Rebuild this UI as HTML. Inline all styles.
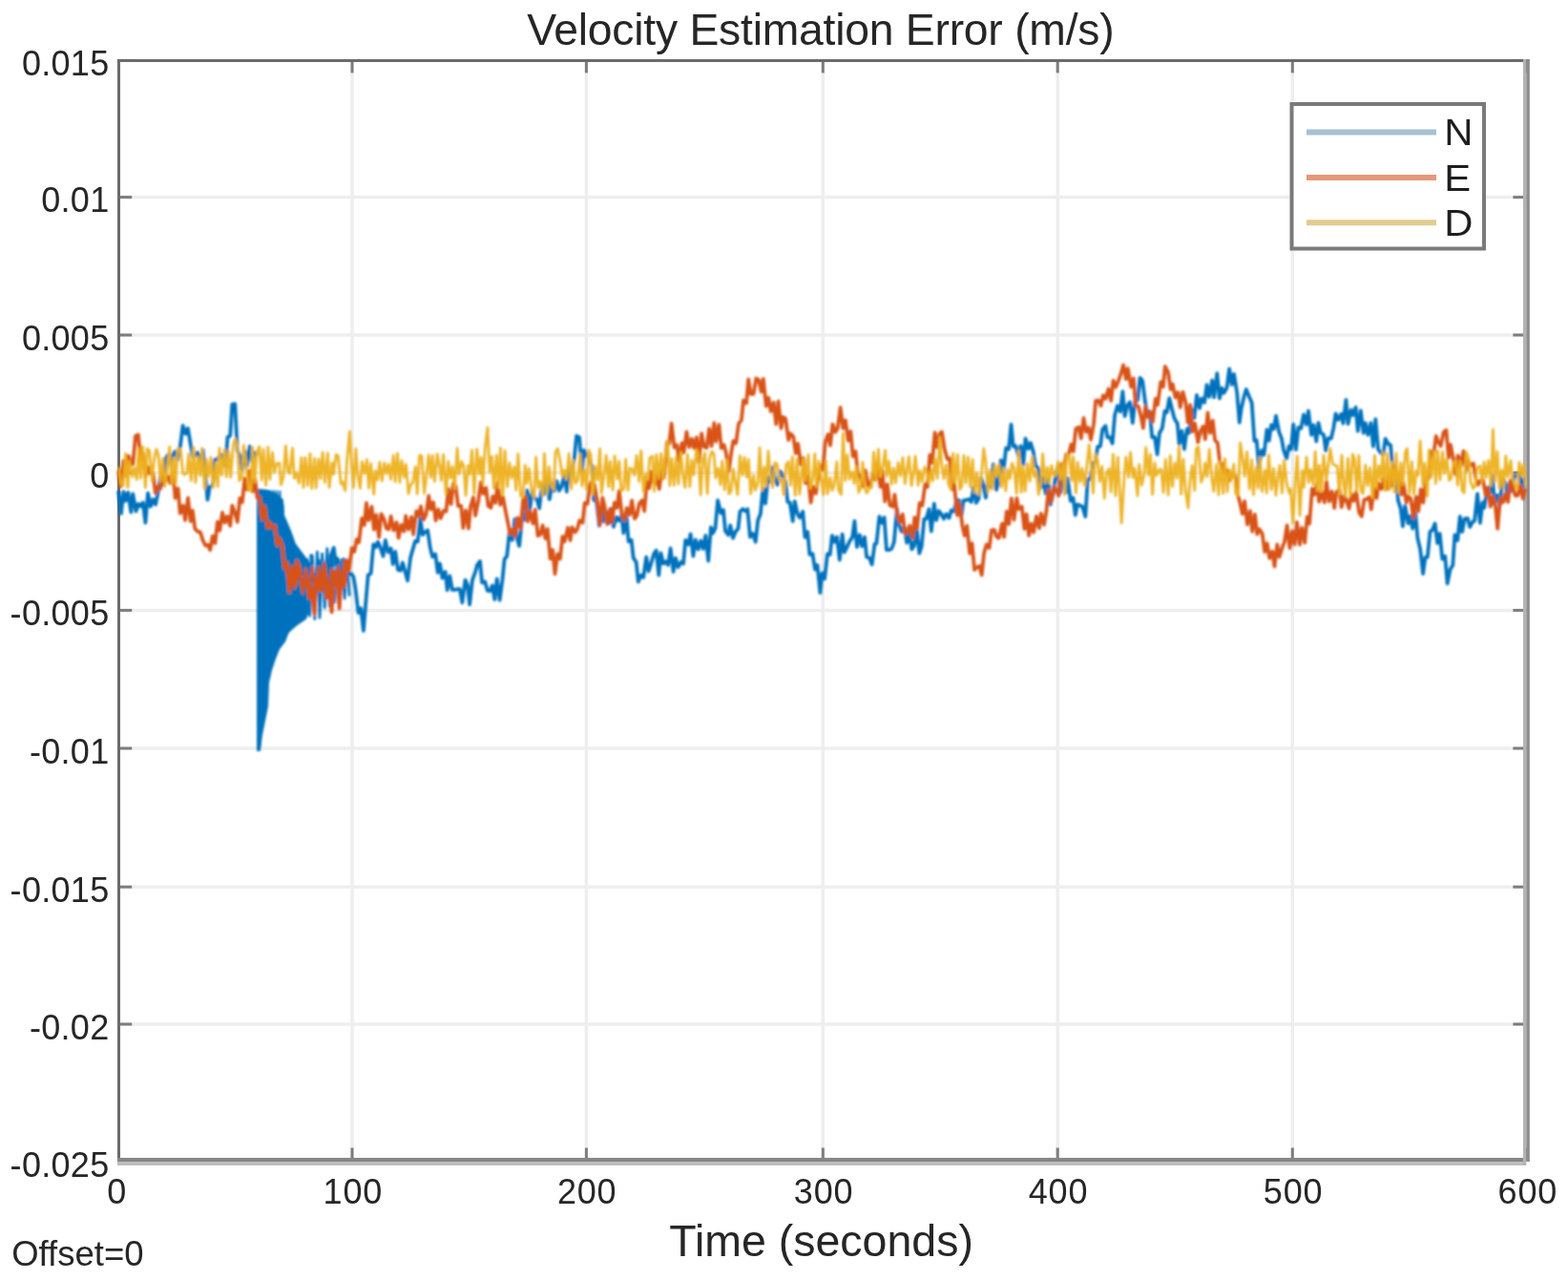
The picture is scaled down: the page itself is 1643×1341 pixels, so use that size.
<!DOCTYPE html>
<html><head><meta charset="utf-8"><title>Velocity Estimation Error</title>
<style>html,body{margin:0;padding:0;background:#fff;} svg{display:block;font-family:"Liberation Sans",Arial,sans-serif;}</style>
</head><body>
<svg width="1643" height="1341" viewBox="0 0 1643 1341">
<rect width="1643" height="1341" fill="#ffffff"/>
<line x1="369.0" y1="63.4" x2="369.0" y2="1216.5" stroke="#eeeeee" stroke-width="3.5"/>
<line x1="614.4" y1="63.4" x2="614.4" y2="1216.5" stroke="#eeeeee" stroke-width="3.5"/>
<line x1="862.3" y1="63.4" x2="862.3" y2="1216.5" stroke="#eeeeee" stroke-width="3.5"/>
<line x1="1108.2" y1="63.4" x2="1108.2" y2="1216.5" stroke="#eeeeee" stroke-width="3.5"/>
<line x1="1354.3" y1="63.4" x2="1354.3" y2="1216.5" stroke="#eeeeee" stroke-width="3.5"/>
<line x1="124.2" y1="206.6" x2="1599.4" y2="206.6" stroke="#eeeeee" stroke-width="3.5"/>
<line x1="124.2" y1="351.0" x2="1599.4" y2="351.0" stroke="#eeeeee" stroke-width="3.5"/>
<line x1="124.2" y1="495.2" x2="1599.4" y2="495.2" stroke="#eeeeee" stroke-width="3.5"/>
<line x1="124.2" y1="639.4" x2="1599.4" y2="639.4" stroke="#eeeeee" stroke-width="3.5"/>
<line x1="124.2" y1="784.0" x2="1599.4" y2="784.0" stroke="#eeeeee" stroke-width="3.5"/>
<line x1="124.2" y1="929.2" x2="1599.4" y2="929.2" stroke="#eeeeee" stroke-width="3.5"/>
<line x1="124.2" y1="1073.0" x2="1599.4" y2="1073.0" stroke="#eeeeee" stroke-width="3.5"/>
<defs><filter id="bl" x="-5%" y="-5%" width="110%" height="110%"><feGaussianBlur stdDeviation="1.1"/></filter></defs>
<line x1="124.4" y1="1215.5" x2="124.4" y2="1202.5" stroke="#7d7d7d" stroke-width="3"/>
<line x1="124.4" y1="63.4" x2="124.4" y2="76.4" stroke="#7d7d7d" stroke-width="3"/>
<line x1="369.0" y1="1215.5" x2="369.0" y2="1202.5" stroke="#7d7d7d" stroke-width="3"/>
<line x1="369.0" y1="63.4" x2="369.0" y2="76.4" stroke="#7d7d7d" stroke-width="3"/>
<line x1="614.4" y1="1215.5" x2="614.4" y2="1202.5" stroke="#7d7d7d" stroke-width="3"/>
<line x1="614.4" y1="63.4" x2="614.4" y2="76.4" stroke="#7d7d7d" stroke-width="3"/>
<line x1="862.3" y1="1215.5" x2="862.3" y2="1202.5" stroke="#7d7d7d" stroke-width="3"/>
<line x1="862.3" y1="63.4" x2="862.3" y2="76.4" stroke="#7d7d7d" stroke-width="3"/>
<line x1="1108.2" y1="1215.5" x2="1108.2" y2="1202.5" stroke="#7d7d7d" stroke-width="3"/>
<line x1="1108.2" y1="63.4" x2="1108.2" y2="76.4" stroke="#7d7d7d" stroke-width="3"/>
<line x1="1354.3" y1="1215.5" x2="1354.3" y2="1202.5" stroke="#7d7d7d" stroke-width="3"/>
<line x1="1354.3" y1="63.4" x2="1354.3" y2="76.4" stroke="#7d7d7d" stroke-width="3"/>
<line x1="1600.0" y1="1215.5" x2="1600.0" y2="1202.5" stroke="#7d7d7d" stroke-width="3"/>
<line x1="1600.0" y1="63.4" x2="1600.0" y2="76.4" stroke="#7d7d7d" stroke-width="3"/>
<line x1="124.2" y1="63.4" x2="138.2" y2="63.4" stroke="#7d7d7d" stroke-width="3"/>
<line x1="1599.4" y1="63.4" x2="1585.4" y2="63.4" stroke="#7d7d7d" stroke-width="3"/>
<line x1="124.2" y1="206.6" x2="138.2" y2="206.6" stroke="#7d7d7d" stroke-width="3"/>
<line x1="1599.4" y1="206.6" x2="1585.4" y2="206.6" stroke="#7d7d7d" stroke-width="3"/>
<line x1="124.2" y1="351.0" x2="138.2" y2="351.0" stroke="#7d7d7d" stroke-width="3"/>
<line x1="1599.4" y1="351.0" x2="1585.4" y2="351.0" stroke="#7d7d7d" stroke-width="3"/>
<line x1="124.2" y1="495.2" x2="138.2" y2="495.2" stroke="#7d7d7d" stroke-width="3"/>
<line x1="1599.4" y1="495.2" x2="1585.4" y2="495.2" stroke="#7d7d7d" stroke-width="3"/>
<line x1="124.2" y1="639.4" x2="138.2" y2="639.4" stroke="#7d7d7d" stroke-width="3"/>
<line x1="1599.4" y1="639.4" x2="1585.4" y2="639.4" stroke="#7d7d7d" stroke-width="3"/>
<line x1="124.2" y1="784.0" x2="138.2" y2="784.0" stroke="#7d7d7d" stroke-width="3"/>
<line x1="1599.4" y1="784.0" x2="1585.4" y2="784.0" stroke="#7d7d7d" stroke-width="3"/>
<line x1="124.2" y1="929.2" x2="138.2" y2="929.2" stroke="#7d7d7d" stroke-width="3"/>
<line x1="1599.4" y1="929.2" x2="1585.4" y2="929.2" stroke="#7d7d7d" stroke-width="3"/>
<line x1="124.2" y1="1073.0" x2="138.2" y2="1073.0" stroke="#7d7d7d" stroke-width="3"/>
<line x1="1599.4" y1="1073.0" x2="1585.4" y2="1073.0" stroke="#7d7d7d" stroke-width="3"/>
<line x1="124.2" y1="1215.5" x2="138.2" y2="1215.5" stroke="#7d7d7d" stroke-width="3"/>
<line x1="1599.4" y1="1215.5" x2="1585.4" y2="1215.5" stroke="#7d7d7d" stroke-width="3"/>
<rect x="123" y="62" width="3" height="1156" fill="#6b6b6b"/>
<rect x="123" y="62" width="1477" height="3" fill="#6b6b6b"/>
<rect x="123" y="1213" width="1476" height="4" fill="#868686"/>
<rect x="123" y="1217" width="1476" height="4" fill="#bdbdbd"/>
<rect x="1596" y="62" width="3.3" height="1159" fill="#b3b3b3"/>
<rect x="1599.3" y="62" width="3.6" height="1155" fill="#8e8e8e"/>
<g filter="url(#bl)">
<path d="M124.0,514.1 L126.9,538.1 L129.4,515.2 L131.6,524.7 L134.2,515.9 L137.3,536.5 L139.2,517.3 L142.5,535.6 L145.0,527.9 L147.4,530.3 L149.8,526.5 L152.4,547.7 L155.0,516.6 L157.8,530.6 L160.4,523.3 L163.0,528.5 L166.0,513.9 L168.4,497.7 L170.9,507.7 L173.8,480.0 L175.8,476.9 L178.3,485.5 L181.3,476.0 L183.4,473.0 L186.0,481.6 L189.0,466.4 L191.6,445.9 L194.5,454.5 L196.9,448.7 L199.4,463.7 L202.0,478.4 L204.4,477.4 L206.8,474.0 L209.6,482.7 L212.6,471.5 L214.8,494.6 L217.5,523.7 L219.8,510.7 L223.1,507.7 L225.1,481.8 L227.8,481.1 L230.9,476.5 L233.2,476.8 L236.1,487.9 L238.5,458.1 L241.2,456.5 L243.3,423.6 L246.2,423.1 L248.8,472.6 L251.7,478.0 L253.9,492.4 L256.7,473.0 L258.8,488.2 L261.7,467.7 L264.3,483.4 L266.7,474.1 L269.9,476.7" fill="none" stroke="#0072bd" stroke-width="3.8" stroke-linejoin="round"/>
<path d="M270.0,513.0 L280.0,514.0 L290.0,518.0 L296.0,524.0 L297.0,540.0 L304.0,556.0 L309.0,570.0 L318.0,582.0 L324.0,590.0 L325.0,635.0 L320.0,648.0 L310.0,655.0 L302.0,662.0 L298.0,672.0 L292.0,680.0 L288.0,690.0 L284.0,702.0 L281.0,715.0 L280.0,740.0 L277.0,755.0 L274.0,770.0 L272.0,786.0 L270.0,786.0 Z" fill="#0072bd" stroke="#0072bd" stroke-width="2"/>
<path d="M271.0,513.0 L272.6,781.2 L274.2,513.1 L275.8,761.0 L277.4,513.3 L279.0,745.0 L280.6,513.4 L282.2,709.8 L283.8,513.5 L285.4,697.8 L287.0,513.6 L288.6,688.5 L290.2,513.8 L291.8,680.5 L293.4,513.9 L295.0,676.0 L296.6,529.6 L298.2,671.5 L299.8,546.4 L301.4,663.5 L303.0,553.7 L304.6,659.7 L306.2,562.2 L307.8,656.9 L309.4,570.5 L311.0,654.3 L312.6,574.8 L314.2,652.1 L315.8,579.1 L317.4,649.8 L319.0,583.3 L320.6,646.4 L322.2,587.6 L323.8,638.1 L325.4,590.0" fill="none" stroke="#0072bd" stroke-width="2"/>
<path d="M322.0,585.0 L324.6,645.2 L327.2,581.9 L329.8,648.5 L332.4,578.2 L335.0,647.1 L337.6,580.1 L340.2,636.8 L342.8,574.7 L345.4,635.4 L348.0,580.4 L350.6,631.1 L353.2,584.4 L355.8,634.0 L358.4,586.5 L361.0,627.0 L363.6,586.9 L366.2,624.6" fill="none" stroke="#0072bd" stroke-width="2.8" stroke-linejoin="round"/>
<path d="M326.0,580.7 L328.9,614.7 L330.8,607.2 L333.7,587.1 L336.3,618.5 L338.7,611.1 L341.7,588.8 L344.4,617.8 L346.7,581.8 L349.7,573.9 L352.2,592.3 L354.3,586.3 L357.4,616.2 L360.1,585.8 L362.2,603.3 L365.1,601.0 L367.7,600.8 L370.3,604.1 L372.5,616.9 L375.5,642.1 L378.1,637.3 L380.9,660.8 L383.4,629.7 L385.7,602.4 L388.6,600.8 L391.3,570.4 L393.9,573.2 L395.9,567.6 L398.4,573.3 L401.5,582.7 L403.8,565.9 L406.7,578.4 L409.6,574.6 L411.7,591.0 L414.2,577.8 L417.0,597.0 L419.7,597.7 L421.9,589.5 L424.7,599.5 L427.1,608.3 L430.1,584.1 L432.9,574.4 L435.1,566.9 L437.7,567.4 L440.4,542.8 L442.8,560.3 L445.4,557.4 L448.1,555.6 L450.8,573.9 L453.1,583.4 L456.2,580.5 L458.7,599.8 L461.0,590.5 L463.5,605.6 L466.6,598.9 L468.7,618.2 L471.3,603.4 L473.9,617.9 L476.5,617.9 L479.7,617.1 L481.8,617.1 L484.4,631.3 L487.5,607.6 L489.9,613.0 L492.1,633.4 L494.9,607.9 L497.9,599.7 L500.1,591.8 L503.0,588.0 L505.1,610.4 L508.2,609.4 L510.8,618.8 L513.5,619.1 L515.9,613.4 L518.3,628.0 L520.7,606.5 L523.6,628.7 L526.4,607.7 L528.6,585.9 L531.2,582.5 L534.0,555.6 L536.8,565.8 L539.5,543.8 L541.5,562.9 L544.1,572.0 L547.2,541.7 L549.7,544.5 L552.4,513.7 L555.2,533.2 L557.8,514.4 L560.3,521.8 L562.8,523.6 L565.1,532.6 L567.9,508.4 L570.1,517.9 L573.2,501.3 L575.8,523.2 L578.4,506.5 L580.8,514.2 L583.3,504.0 L585.9,514.1 L588.2,510.2 L591.5,497.9 L593.8,515.0 L596.3,491.4 L599.0,495.9 L601.8,479.9 L604.1,456.7 L607.1,458.2 L609.7,493.3 L611.9,471.6 L614.3,476.2 L617.4,481.4 L620.2,487.9 L622.1,523.4 L625.2,526.1 L627.9,550.8 L630.5,532.8 L632.5,546.3 L635.1,536.6 L638.4,547.9 L640.3,532.8 L642.9,551.8 L645.9,541.8 L648.4,545.4 L651.2,540.1 L653.4,558.5 L656.5,540.8 L658.6,567.4 L661.6,565.8 L663.7,584.6 L666.6,588.8 L668.8,609.5 L671.7,602.6 L674.2,605.0 L677.2,583.6 L679.6,598.5 L681.8,591.8 L685.2,580.2 L687.7,576.7 L690.3,602.6 L692.4,579.4 L695.1,590.5 L697.6,588.3 L700.1,591.9 L702.6,574.5 L705.6,599.0 L707.9,584.7 L710.5,594.2 L713.7,588.8 L716.0,590.6 L718.3,565.8 L721.3,570.4 L723.6,559.5 L726.4,582.5 L728.8,565.5 L731.6,575.6 L734.3,566.5 L736.8,575.0 L739.3,561.0 L742.2,587.5 L744.9,552.4 L746.9,558.6 L749.5,553.4 L752.1,524.2 L755.4,537.6 L758.0,534.3 L760.0,556.3 L763.2,560.4 L765.2,550.3 L768.0,563.7 L770.6,557.2 L773.5,553.7 L775.4,536.1 L778.3,533.3 L781.1,535.5 L783.3,533.3 L786.0,562.5 L788.8,558.9 L791.7,567.7 L794.2,545.0 L796.9,538.2 L799.4,511.7 L802.0,527.5 L804.7,500.0 L807.1,504.7 L809.8,489.3 L812.0,501.8 L814.5,507.9 L817.6,493.8 L819.7,497.4 L822.9,503.6 L825.3,525.7 L827.7,526.6 L830.7,546.0 L832.7,525.1 L835.6,538.2 L837.9,542.4 L841.2,536.0 L843.5,562.9 L846.2,557.2 L848.4,580.9 L851.4,580.1 L854.0,596.5 L856.5,592.1 L859.4,621.1 L861.5,600.5 L864.1,606.2 L867.0,580.3 L869.7,581.0 L871.9,561.1 L874.7,567.7 L877.0,562.6 L879.8,586.6 L882.6,559.6 L884.7,578.5 L887.8,572.6 L889.8,568.1 L893.2,562.5 L895.4,546.0 L897.9,573.1 L900.8,560.4 L903.2,572.2 L906.0,562.8 L908.1,583.5 L911.1,584.5 L913.6,591.4 L916.5,570.1 L918.4,569.4 L921.4,541.1 L924.1,547.7 L926.6,542.1 L928.9,576.1 L931.9,576.1 L934.2,574.9 L936.8,568.1 L939.9,533.3 L942.0,548.8 L944.8,557.0 L947.6,552.2 L950.2,568.6 L952.6,555.8 L955.4,575.4 L957.8,571.9 L960.5,553.0 L963.3,579.7 L965.7,572.4 L968.3,543.9 L970.7,543.3 L973.4,533.4 L975.9,556.5 L978.8,527.7 L981.1,544.9 L983.8,535.3 L986.6,539.0 L989.0,543.6 L991.5,538.4 L994.5,542.7 L996.7,534.8 L999.7,535.8 L1002.2,524.0 L1004.6,523.8 L1007.4,540.9 L1009.4,524.3 L1012.3,524.0 L1015.3,523.0 L1017.7,525.9 L1020.2,510.5 L1022.9,526.9 L1025.5,522.5 L1028.1,500.9 L1030.5,508.1 L1032.9,521.5 L1035.6,499.6 L1038.2,510.2 L1040.9,486.3 L1044.0,513.1 L1046.1,506.6 L1048.8,482.2 L1051.3,495.7 L1054.1,469.3 L1057.0,470.6 L1059.5,444.7 L1061.7,467.6 L1064.2,467.1 L1067.3,477.8 L1069.6,467.1 L1072.3,486.9 L1074.5,459.3 L1077.7,470.1 L1079.9,464.0 L1082.6,472.6 L1085.0,487.9 L1087.7,490.1 L1090.7,510.9 L1093.3,500.5 L1095.6,516.9 L1098.4,501.4 L1100.8,528.6 L1103.3,518.9 L1106.0,499.2 L1108.4,489.3 L1111.1,516.2 L1114.0,499.0 L1116.6,516.4 L1118.6,500.8 L1121.8,524.8 L1124.5,521.4 L1126.8,539.7 L1129.0,528.4 L1132.1,529.7 L1134.4,531.2 L1137.3,541.2 L1139.7,502.4 L1142.5,501.6 L1144.8,485.6 L1147.6,483.9 L1150.2,468.0 L1152.9,467.6 L1155.2,450.0 L1158.4,446.1 L1160.4,458.2 L1163.0,458.1 L1165.6,464.5 L1168.1,434.9 L1170.9,425.1 L1173.8,431.2 L1176.4,410.2 L1178.6,436.0 L1181.1,425.2 L1183.9,421.3 L1186.8,443.0 L1189.2,421.4 L1192.1,419.0 L1194.5,395.8 L1197.1,398.8 L1199.8,420.2 L1202.4,434.5 L1204.7,431.0 L1207.2,458.2 L1210.0,457.9 L1212.6,476.0 L1214.9,453.8 L1217.8,448.6 L1220.5,430.6 L1222.7,432.0 L1225.3,417.1 L1227.9,428.3 L1230.6,438.4 L1233.8,444.0 L1235.6,465.0 L1238.3,451.4 L1240.9,470.6 L1243.8,449.4 L1246.0,453.6 L1249.0,429.0 L1251.3,438.1 L1254.0,413.9 L1257.0,427.6 L1259.1,417.4 L1262.1,421.8 L1264.5,403.1 L1267.1,415.8 L1270.1,398.5 L1272.1,416.3 L1275.3,391.2 L1277.9,417.3 L1280.3,406.5 L1282.4,411.7 L1285.5,406.3 L1288.1,386.4 L1290.8,402.9 L1293.0,391.8 L1296.2,411.5 L1298.7,442.7 L1300.7,428.0 L1303.5,415.7 L1305.8,407.9 L1309.1,416.0 L1311.7,422.1 L1314.4,461.8 L1316.7,461.3 L1319.3,490.5 L1321.9,471.9 L1324.5,476.4 L1327.4,450.1 L1329.7,461.6 L1332.1,445.2 L1334.8,449.5 L1337.0,435.6 L1340.2,452.4 L1342.8,459.2 L1345.1,471.9 L1348.1,480.3 L1350.6,467.5 L1352.9,470.5 L1355.3,444.6 L1357.9,471.0 L1360.5,447.9 L1363.2,448.8 L1366.0,434.3 L1368.9,444.7 L1371.0,430.4 L1374.1,455.6 L1376.5,445.4 L1379.3,462.4 L1381.5,442.8 L1383.8,453.4 L1387.0,455.6 L1389.2,472.0 L1391.7,459.1 L1394.8,459.3 L1397.3,448.6 L1399.6,433.4 L1402.2,439.8 L1405.4,433.7 L1407.4,443.5 L1410.4,418.9 L1412.5,444.0 L1415.7,429.4 L1417.7,434.9 L1420.6,426.7 L1422.8,451.5 L1425.8,430.2 L1428.7,453.6 L1430.7,443.2 L1433.4,455.5 L1436.4,443.1 L1438.9,467.6 L1441.3,439.1 L1444.1,470.5 L1446.6,474.3 L1449.5,476.0 L1451.6,459.6 L1454.6,465.0 L1457.1,466.5 L1459.8,497.5 L1462.1,489.0 L1465.0,524.4 L1467.6,532.3 L1469.9,551.4 L1472.2,529.9 L1475.6,548.4 L1478.0,540.6 L1480.2,553.6 L1483.2,537.7 L1485.4,563.8 L1488.2,575.5 L1491.1,601.0 L1493.4,583.9 L1495.8,583.6 L1498.4,557.1 L1500.9,555.2 L1503.6,548.5 L1506.2,569.1 L1508.7,559.2 L1511.3,585.6 L1514.2,582.7 L1516.6,611.4 L1519.6,596.4 L1522.3,592.1 L1524.4,560.3 L1527.3,566.1 L1529.8,541.1 L1532.1,557.2 L1534.7,543.3 L1537.9,543.1 L1540.2,552.1 L1543.0,546.9 L1545.1,545.6 L1548.1,517.4 L1550.9,547.9 L1553.5,526.5 L1555.4,531.8 L1558.4,511.2 L1560.9,516.9 L1563.8,498.3 L1565.9,527.8 L1568.6,518.9 L1571.7,529.7 L1574.0,502.3 L1576.6,504.2 L1579.6,518.6 L1581.7,506.2 L1584.0,514.4 L1586.9,498.0 L1589.3,498.8 L1591.9,496.2 L1594.9,510.7 L1597.8,499.9" fill="none" stroke="#0072bd" stroke-width="3.8" stroke-linejoin="round"/>
<path d="M124.0,492.9 L126.3,509.9 L129.3,482.9 L132.0,497.9 L134.6,477.6 L137.1,486.1 L139.2,486.5 L142.0,456.7 L144.8,455.4 L147.6,482.0 L149.9,475.3 L152.6,498.7 L155.5,489.5 L157.4,496.2 L160.2,495.3 L162.8,516.5 L166.0,509.4 L168.0,512.0 L170.4,495.2 L173.3,504.2 L176.1,499.0 L178.3,506.1 L181.5,496.0 L183.6,521.8 L186.6,511.8 L188.7,537.9 L191.9,529.7 L194.0,544.9 L197.0,521.7 L199.7,546.1 L201.8,534.8 L204.3,553.9 L207.3,557.0 L209.8,557.3 L212.4,565.6 L215.2,571.5 L217.6,570.7 L220.2,576.2 L222.8,561.6 L225.4,569.1 L227.9,546.7 L230.3,555.8 L233.0,537.0 L235.6,547.5 L238.2,540.9 L241.2,550.9 L243.3,529.6 L246.0,536.4 L248.8,546.9 L251.3,521.9 L253.8,526.3 L256.5,501.5 L259.2,513.0 L261.9,493.2 L264.8,514.9 L267.3,502.2 L269.5,521.6 L272.2,521.1 L274.7,544.2 L277.2,530.4 L280.4,552.9 L282.3,547.5 L285.0,552.8 L287.9,550.8 L290.5,571.1 L292.8,564.2 L295.9,572.6 L298.1,595.5 L300.9,589.6 L303.1,620.5 L306.3,593.7 L308.3,615.5 L311.1,587.5 L314.1,596.9 L316.8,617.3 L319.3,609.0 L321.9,612.5 L324.0,626.9 L326.4,615.5 L329.4,643.4 L331.7,605.7 L335.0,618.1 L336.8,609.7 L339.7,591.0 L342.2,626.5 L344.6,614.6 L347.6,641.3 L349.9,599.0 L353.1,605.5 L355.6,637.6 L357.9,600.3 L360.9,614.1 L363.4,587.1 L365.7,597.6 L368.7,574.1 L371.3,578.0 L373.7,565.0 L376.1,568.2 L379.1,543.1 L381.8,550.0 L383.9,527.0 L386.3,545.2 L389.5,530.8 L391.9,554.7 L394.2,539.3 L397.1,562.8 L399.4,538.4 L402.5,544.2 L404.7,553.4 L407.2,554.6 L409.6,540.9 L412.5,555.6 L415.6,547.2 L417.6,563.5 L420.4,549.9 L423.4,556.6 L425.2,540.5 L428.0,554.7 L431.1,541.7 L433.1,559.8 L436.3,535.5 L438.9,540.5 L440.9,530.4 L443.9,544.4 L446.4,539.2 L449.2,519.5 L451.4,533.7 L454.1,526.3 L456.6,545.4 L459.2,533.6 L461.7,543.1 L464.9,535.0 L467.5,535.7 L469.7,512.1 L472.6,528.2 L475.0,506.4 L477.4,509.3 L480.1,530.2 L483.2,529.9 L485.3,553.2 L488.1,534.7 L491.0,553.7 L493.0,530.8 L496.0,521.1 L498.1,540.2 L501.2,525.1 L503.8,505.5 L506.5,517.2 L509.2,511.1 L511.6,529.9 L514.4,531.9 L516.4,519.9 L519.2,526.8 L521.6,505.2 L524.1,528.9 L527.0,520.9 L529.8,535.8 L532.4,548.7 L534.4,559.5 L537.8,554.1 L539.8,561.5 L542.4,542.5 L545.5,553.7 L548.1,523.6 L550.6,520.6 L552.9,546.3 L555.6,536.2 L558.5,548.5 L560.7,533.8 L563.6,561.4 L566.2,560.1 L568.6,550.4 L571.5,564.2 L573.7,554.1 L576.6,585.4 L579.1,576.1 L581.5,601.3 L584.2,580.5 L586.9,585.5 L589.4,562.1 L591.7,567.2 L595.0,552.8 L597.6,566.1 L599.4,552.4 L602.8,557.6 L605.0,554.1 L607.3,545.3 L610.5,547.7 L612.7,527.0 L615.6,527.7 L618.3,507.6 L620.6,503.3 L622.8,507.8 L626.1,526.5 L628.6,550.0 L631.3,521.5 L633.4,529.7 L636.4,549.2 L639.1,533.4 L641.3,547.2 L643.9,526.6 L646.5,532.0 L648.8,514.3 L651.6,539.5 L654.3,545.0 L656.7,532.1 L659.8,539.2 L662.1,524.4 L664.9,543.3 L667.2,540.5 L669.9,527.5 L672.8,524.3 L675.2,535.4 L677.9,503.0 L680.3,511.4 L683.0,493.9 L685.9,507.6 L688.0,498.0 L690.8,512.3 L693.5,491.3 L695.7,500.4 L699.0,462.9 L701.2,464.7 L703.6,443.6 L706.6,468.8 L709.3,466.3 L711.7,483.0 L714.5,464.2 L716.5,474.1 L719.4,452.4 L722.2,468.5 L724.9,459.8 L727.3,469.5 L729.9,458.1 L732.3,483.7 L735.1,454.2 L737.6,467.8 L740.5,469.2 L743.1,449.1 L745.6,467.4 L748.3,443.1 L750.3,462.5 L753.4,444.9 L755.8,469.6 L758.6,466.1 L760.8,474.4 L763.6,494.0 L766.5,472.7 L768.4,461.9 L771.2,464.3 L774.0,443.8 L776.9,440.1 L779.0,419.5 L782.1,422.4 L784.2,397.3 L786.8,412.9 L789.6,412.8 L792.3,396.4 L795.1,398.1 L797.7,410.4 L799.8,396.9 L802.8,425.5 L805.3,416.8 L807.7,431.0 L810.6,421.8 L813.3,444.4 L815.6,420.5 L818.5,448.7 L820.5,436.8 L823.1,438.8 L826.2,460.9 L828.4,454.3 L831.3,457.5 L833.8,474.9 L836.1,464.8 L839.2,486.7 L841.8,480.0 L843.9,506.2 L846.6,498.7 L849.6,526.5 L852.3,509.9 L854.9,516.9 L857.2,500.5 L859.7,487.8 L862.4,492.4 L864.7,463.1 L867.6,455.1 L870.0,466.6 L872.5,444.4 L875.3,452.7 L877.7,448.7 L880.6,426.9 L883.4,448.8 L885.9,440.4 L888.8,461.6 L891.3,452.0 L893.7,478.1 L896.5,473.0 L898.8,496.4 L901.6,499.4 L903.8,509.6 L906.6,492.6 L909.6,508.5 L911.9,510.5 L914.4,496.3 L917.2,502.8 L919.4,486.2 L922.5,510.1 L924.4,492.5 L927.2,525.3 L929.7,507.3 L932.4,529.3 L935.6,530.7 L937.4,518.1 L940.2,538.7 L943.1,547.1 L945.8,538.8 L948.4,559.4 L950.7,557.4 L953.2,550.8 L956.3,563.4 L958.3,542.1 L960.9,553.5 L963.6,526.9 L966.4,529.6 L969.4,507.5 L971.8,510.1 L974.3,476.7 L976.8,484.8 L979.6,453.1 L982.1,468.7 L984.5,454.7 L986.9,452.5 L989.6,470.0 L992.6,480.8 L995.1,480.3 L997.8,512.7 L999.8,507.2 L1003.1,539.8 L1005.3,527.7 L1008.3,550.1 L1010.7,561.1 L1013.2,550.9 L1016.1,579.9 L1018.5,569.3 L1021.1,597.1 L1023.3,594.6 L1026.3,593.0 L1028.7,602.5 L1031.1,579.4 L1033.7,570.5 L1036.6,574.1 L1039.0,555.5 L1042.0,555.1 L1044.1,562.2 L1046.6,563.8 L1050.0,548.7 L1052.1,562.6 L1054.8,535.8 L1057.2,549.0 L1059.8,522.2 L1062.5,544.5 L1065.4,521.8 L1067.4,533.4 L1070.7,530.7 L1073.4,554.1 L1075.6,538.7 L1078.1,561.1 L1080.6,548.7 L1083.1,557.7 L1085.9,540.9 L1088.9,553.4 L1090.8,537.9 L1094.0,549.7 L1096.5,534.9 L1098.6,513.3 L1101.3,525.6 L1104.4,510.1 L1106.9,514.0 L1109.3,519.3 L1112.3,486.2 L1114.4,497.0 L1117.1,475.9 L1119.5,477.1 L1122.5,465.5 L1124.7,473.0 L1127.3,449.1 L1130.4,447.4 L1132.8,459.2 L1135.5,438.0 L1138.2,452.5 L1140.7,448.1 L1143.0,460.6 L1146.0,444.5 L1148.1,419.9 L1150.8,419.3 L1153.6,425.1 L1155.9,414.3 L1158.5,417.7 L1161.5,407.5 L1164.2,419.9 L1166.5,398.6 L1169.1,405.5 L1171.6,399.8 L1174.4,391.8 L1177.1,382.5 L1179.9,397.1 L1181.8,386.0 L1185.1,405.1 L1187.8,396.4 L1189.9,424.6 L1192.8,425.7 L1195.5,436.0 L1197.9,448.5 L1200.2,426.0 L1203.1,437.2 L1205.9,432.0 L1207.9,442.0 L1210.8,417.6 L1213.0,424.1 L1216.3,400.2 L1218.8,405.2 L1220.8,384.0 L1224.0,389.8 L1226.6,407.9 L1228.7,402.5 L1231.6,416.3 L1234.4,411.1 L1236.7,426.8 L1239.4,410.6 L1242.4,421.8 L1244.7,442.7 L1247.2,424.1 L1249.5,452.2 L1252.1,443.8 L1255.3,463.4 L1257.8,451.9 L1260.5,446.8 L1262.9,460.1 L1265.5,432.4 L1268.0,453.6 L1270.8,440.7 L1273.1,461.4 L1275.8,463.8 L1278.4,486.1 L1281.1,485.6 L1283.4,495.8 L1285.8,492.6 L1288.5,503.5 L1291.1,496.0 L1294.3,498.3 L1296.8,517.4 L1299.4,527.0 L1301.8,538.4 L1304.1,525.1 L1307.0,549.4 L1309.9,535.3 L1312.2,556.8 L1314.9,538.8 L1317.3,559.7 L1319.7,554.4 L1322.7,559.3 L1325.2,578.1 L1327.7,569.4 L1330.2,584.8 L1333.2,577.7 L1335.5,593.4 L1338.3,570.5 L1340.6,583.4 L1343.6,573.6 L1345.9,567.9 L1348.6,550.4 L1351.5,574.2 L1354.0,556.5 L1356.6,570.4 L1358.9,547.2 L1361.9,570.6 L1364.1,552.9 L1367.2,568.7 L1369.7,541.4 L1372.1,548.7 L1374.9,512.0 L1377.2,518.2 L1380.0,507.1 L1382.1,525.5 L1385.4,516.1 L1387.8,526.4 L1389.9,504.6 L1392.6,525.3 L1395.5,514.8 L1398.2,532.2 L1400.3,515.6 L1403.6,512.8 L1405.7,531.3 L1408.8,519.2 L1411.2,524.9 L1413.6,532.8 L1416.1,517.7 L1418.5,524.7 L1421.1,515.1 L1424.1,536.8 L1426.8,541.0 L1429.5,523.3 L1431.7,523.2 L1434.8,520.8 L1436.8,533.7 L1440.0,511.5 L1442.5,521.8 L1444.5,506.4 L1447.7,512.3 L1450.2,501.3 L1452.8,512.4 L1455.5,498.5 L1457.8,509.2 L1460.4,487.9 L1462.9,498.9 L1465.9,496.5 L1468.5,518.1 L1470.5,505.8 L1473.6,526.5 L1475.8,520.2 L1478.3,522.7 L1481.0,542.6 L1483.9,520.5 L1486.2,535.5 L1488.8,512.5 L1491.3,526.6 L1494.1,500.6 L1497.0,501.0 L1499.0,472.8 L1502.0,477.6 L1504.7,457.0 L1506.8,462.3 L1509.6,467.4 L1512.7,452.7 L1515.4,450.6 L1517.9,479.5 L1519.9,465.8 L1523.0,481.6 L1525.4,497.2 L1527.7,477.2 L1530.6,488.4 L1533.5,472.5 L1536.1,493.0 L1538.3,482.4 L1540.7,487.6 L1543.9,485.6 L1546.6,502.2 L1548.8,507.7 L1551.2,503.7 L1554.0,502.9 L1556.8,518.8 L1559.2,511.3 L1561.7,530.8 L1564.2,520.2 L1566.8,529.7 L1569.2,553.8 L1572.0,521.8 L1575.2,526.0 L1577.0,517.5 L1580.2,525.9 L1582.8,503.1 L1585.1,510.7 L1587.9,519.4 L1590.2,519.2 L1593.1,508.9 L1595.8,522.5 L1598.4,511.7" fill="none" stroke="#d95319" stroke-width="3.8" stroke-linejoin="round"/>
<path d="M300.0,597.9 L303.4,613.2 L306.8,596.8 L310.2,612.6 L313.6,592.1 L317.0,621.8 L320.4,595.7 L323.8,617.7 L327.2,593.6 L330.6,625.6 L334.0,594.2 L337.4,619.6 L340.8,596.3 L344.2,619.6 L347.6,596.3 L351.0,613.9 L354.4,593.4 L357.8,611.6 L361.2,586.3" fill="none" stroke="#d95319" stroke-width="2.6" stroke-linejoin="round"/>
<path d="M124.2,489.1 L126.9,507.6 L129.1,508.6 L131.6,475.1 L133.9,510.8 L135.6,483.0 L138.6,499.2 L140.9,490.2 L143.2,502.3 L145.4,469.7 L147.4,501.0 L149.6,468.0 L152.4,510.9 L154.3,470.0 L156.7,472.6 L159.2,503.9 L161.5,481.7 L163.8,470.6 L166.0,476.7 L168.2,504.4 L170.7,480.5 L172.7,509.5 L174.9,494.0 L177.7,468.2 L180.0,507.3 L182.2,480.4 L184.0,506.6 L186.2,470.0 L189.2,471.1 L191.6,495.4 L193.3,497.2 L195.9,495.5 L197.7,475.7 L200.3,503.5 L202.9,468.6 L204.9,505.4 L207.5,478.7 L209.9,498.4 L211.6,469.6 L214.4,512.0 L216.4,481.1 L218.5,499.1 L221.0,479.3 L223.4,510.8 L226.0,484.6 L228.2,509.8 L229.9,469.6 L232.2,497.9 L235.3,470.9 L237.2,499.5 L239.6,472.7 L241.7,500.0 L244.4,466.3 L246.4,460.0 L248.8,467.7 L250.8,503.6 L253.5,500.2 L255.4,466.6 L257.6,483.3 L260.3,512.1 L262.8,514.4 L264.6,468.8 L266.9,505.3 L269.1,474.0 L271.8,467.8 L274.2,502.7 L276.0,471.0 L278.6,508.5 L280.9,468.5 L282.9,502.2 L285.5,474.2 L287.6,494.9 L289.9,485.6 L292.8,485.1 L294.4,507.8 L296.9,499.9 L299.4,467.1 L301.5,493.6 L303.5,496.0 L306.5,469.5 L308.3,501.1 L310.7,495.4 L313.4,506.2 L315.8,479.4 L318.0,510.7 L319.9,479.4 L322.5,508.5 L324.9,475.1 L326.7,511.8 L329.6,480.3 L331.2,511.2 L333.9,480.9 L335.9,501.3 L338.2,473.9 L340.4,505.3 L343.4,474.8 L345.0,510.6 L347.9,485.0 L349.6,496.8 L352.1,476.5 L354.3,477.6 L357.2,506.8 L358.8,504.9 L361.7,514.0 L363.5,483.8 L366.4,452.0 L368.5,487.0 L370.4,510.9 L372.9,470.0 L374.9,498.0 L377.4,511.5 L379.4,483.8 L382.2,496.1 L384.5,481.5 L386.5,511.3 L388.6,485.8 L391.7,517.9 L393.3,493.3 L395.8,502.8 L397.8,484.2 L400.4,503.7 L402.7,484.9 L405.1,496.0 L407.3,486.2 L409.5,502.1 L412.2,477.2 L414.1,504.6 L416.5,474.9 L418.9,505.4 L421.0,482.7 L423.7,499.7 L425.5,486.5 L428.0,517.2 L430.3,508.0 L432.5,505.5 L435.3,489.1 L437.2,517.5 L439.5,477.3 L441.9,477.5 L444.5,516.7 L446.3,503.3 L449.1,476.8 L451.5,500.0 L453.2,477.3 L455.4,504.3 L458.2,475.8 L460.2,486.1 L462.4,503.4 L464.6,476.1 L467.3,517.3 L469.8,483.5 L472.1,500.8 L474.2,488.9 L476.4,512.1 L479.1,469.5 L481.1,496.8 L483.7,483.7 L485.8,487.9 L488.1,519.1 L490.4,488.0 L492.2,496.7 L494.6,471.6 L496.8,517.4 L499.7,470.4 L502.1,496.6 L504.1,479.2 L506.0,507.1 L508.3,468.6 L510.9,448.0 L513.1,494.7 L515.3,478.2 L517.5,511.7 L520.2,477.0 L522.6,511.4 L524.4,469.3 L526.8,518.7 L529.1,472.1 L531.6,509.9 L534.0,485.0 L536.1,500.6 L538.8,489.1 L540.7,513.3 L542.9,475.8 L545.6,519.6 L548.0,520.8 L550.3,487.3 L552.0,506.3 L554.4,490.7 L556.9,512.7 L559.6,521.4 L561.6,479.0 L563.9,510.6 L566.0,504.5 L568.8,519.3 L570.4,475.3 L573.0,516.4 L575.4,489.1 L577.8,509.3 L580.2,513.1 L582.1,473.7 L584.3,470.0 L587.2,484.3 L589.1,498.7 L591.2,492.5 L593.4,502.1 L596.2,475.3 L598.6,512.2 L600.7,482.8 L602.8,506.2 L605.3,503.4 L607.9,475.8 L609.9,509.0 L612.3,492.0 L614.7,512.6 L616.9,471.5 L619.0,476.0 L621.0,518.2 L623.8,488.7 L626.2,502.9 L628.6,470.3 L630.2,517.0 L632.5,500.2 L635.2,477.0 L637.7,509.9 L639.4,483.4 L642.1,513.3 L644.1,477.8 L647.0,501.8 L648.8,483.3 L650.9,514.3 L653.7,511.8 L655.6,481.2 L658.0,513.5 L660.1,490.3 L662.6,491.8 L664.7,497.9 L667.1,477.2 L669.7,504.4 L671.7,472.3 L674.3,515.4 L676.8,496.6 L678.9,502.9 L680.7,480.0 L683.8,478.0 L685.5,514.7 L687.9,476.3 L690.3,501.2 L692.7,475.2 L694.8,502.3 L697.2,478.0 L699.6,462.0 L701.8,508.8 L703.9,480.4 L706.3,508.5 L708.6,478.0 L710.8,507.1 L713.4,473.6 L715.6,498.0 L717.8,510.7 L720.4,476.3 L722.8,509.8 L724.9,482.3 L727.0,497.6 L729.7,470.8 L731.4,474.4 L734.2,518.4 L736.2,483.1 L738.5,474.5 L741.2,517.1 L743.3,480.7 L745.9,472.9 L748.1,475.6 L749.8,500.7 L752.4,490.7 L754.9,507.7 L756.7,483.1 L759.3,513.0 L762.0,481.5 L763.7,517.4 L765.9,515.1 L768.3,491.5 L770.7,506.1 L772.9,518.2 L775.3,477.5 L778.0,497.8 L780.0,479.2 L782.4,499.9 L784.3,481.1 L786.6,517.3 L789.6,497.9 L791.4,513.6 L794.2,505.7 L796.0,469.3 L798.5,513.6 L800.8,489.4 L802.7,509.2 L805.0,472.8 L807.6,501.4 L809.6,510.7 L812.0,484.6 L814.3,486.5 L816.7,503.2 L819.1,502.8 L821.2,518.2 L823.6,487.3 L826.0,483.7 L828.4,508.3 L830.2,478.6 L833.3,519.1 L835.1,481.0 L837.8,517.7 L839.4,502.4 L841.7,480.8 L844.1,503.9 L847.0,476.4 L848.9,511.9 L851.6,501.8 L853.8,475.4 L855.6,510.1 L858.1,483.3 L860.4,500.3 L862.8,518.4 L865.3,482.9 L867.1,517.2 L870.0,500.4 L872.0,513.8 L874.2,507.7 L876.8,484.0 L878.7,513.4 L881.4,518.1 L883.4,454.0 L885.8,503.6 L887.9,476.5 L890.2,502.0 L893.0,494.6 L895.1,506.4 L897.2,488.8 L899.8,515.8 L902.2,510.1 L903.9,484.3 L906.9,514.1 L908.4,516.5 L911.2,510.4 L913.2,510.7 L915.5,473.6 L918.0,503.1 L920.4,470.7 L922.5,499.4 L925.1,488.6 L927.6,471.6 L929.2,498.9 L931.6,483.3 L934.2,507.2 L936.3,490.5 L938.6,505.9 L941.0,484.8 L943.5,498.6 L945.9,479.5 L948.3,506.7 L950.5,490.2 L952.4,478.4 L955.1,508.8 L957.3,494.7 L959.1,478.0 L962.1,508.3 L963.8,493.0 L966.4,504.9 L968.8,489.5 L971.2,494.2 L973.3,505.9 L975.9,492.0 L977.4,503.7 L979.7,480.4 L982.2,501.2 L984.8,458.0 L986.9,488.3 L989.0,501.5 L991.4,487.2 L994.0,507.3 L996.1,512.8 L998.7,474.9 L1000.8,505.9 L1003.4,476.1 L1005.6,512.7 L1007.7,509.8 L1009.9,477.1 L1012.1,505.9 L1014.4,478.9 L1016.8,510.4 L1019.1,481.4 L1021.2,515.9 L1023.8,495.3 L1025.8,518.0 L1028.7,494.7 L1030.7,470.0 L1032.7,481.9 L1035.2,515.6 L1037.4,492.2 L1039.6,512.6 L1042.2,487.7 L1044.2,499.1 L1046.5,486.4 L1049.3,510.4 L1051.3,490.4 L1053.8,514.2 L1056.0,491.9 L1058.3,501.5 L1060.4,485.4 L1062.8,491.1 L1065.2,517.0 L1067.4,472.5 L1070.1,515.7 L1071.9,488.4 L1074.2,514.6 L1076.6,485.8 L1079.2,504.0 L1081.6,478.5 L1083.7,499.4 L1085.8,493.7 L1088.3,518.1 L1090.8,504.8 L1092.6,475.5 L1095.2,505.9 L1097.6,489.8 L1099.6,506.2 L1101.7,487.7 L1104.4,498.7 L1106.4,497.7 L1108.8,483.8 L1111.2,502.4 L1113.9,484.4 L1115.5,518.4 L1117.8,475.3 L1120.4,477.9 L1123.1,503.5 L1124.6,478.4 L1127.4,516.4 L1129.2,484.4 L1131.9,505.0 L1133.9,490.7 L1136.6,508.9 L1138.7,489.9 L1141.2,466.0 L1143.2,485.9 L1145.4,516.5 L1147.7,475.8 L1150.1,482.3 L1152.3,504.2 L1154.7,488.6 L1157.2,522.0 L1159.5,495.6 L1162.1,491.1 L1164.1,515.4 L1166.4,476.0 L1168.9,519.5 L1171.3,479.0 L1173.4,516.5 L1175.2,548.0 L1177.9,501.2 L1179.8,478.9 L1182.6,499.9 L1184.5,473.9 L1187.1,500.3 L1189.1,490.8 L1192.0,519.4 L1193.7,486.7 L1196.4,508.3 L1198.8,497.8 L1200.7,468.8 L1203.3,497.7 L1205.4,475.9 L1207.6,517.8 L1209.9,485.0 L1212.0,498.0 L1214.8,491.9 L1216.7,491.6 L1219.1,516.0 L1221.3,481.5 L1224.1,518.6 L1226.2,477.5 L1228.5,509.6 L1230.9,485.3 L1233.3,500.7 L1235.5,468.0 L1237.7,517.6 L1239.9,481.1 L1242.3,514.3 L1245.0,532.0 L1247.0,502.7 L1249.2,487.7 L1251.8,513.8 L1253.4,470.3 L1255.8,468.0 L1258.6,505.1 L1261.1,498.7 L1262.6,485.3 L1264.9,499.1 L1267.2,470.8 L1270.0,503.1 L1271.9,514.9 L1274.5,486.8 L1276.9,518.3 L1278.7,483.1 L1281.7,516.9 L1283.5,480.4 L1286.0,515.2 L1288.2,492.3 L1290.5,501.4 L1292.8,486.2 L1294.8,517.1 L1297.4,519.1 L1299.6,464.0 L1302.0,479.7 L1304.1,498.9 L1306.6,473.4 L1309.2,512.4 L1311.7,481.7 L1313.4,518.3 L1316.2,489.5 L1318.3,511.2 L1320.2,479.1 L1322.4,515.0 L1325.4,492.8 L1327.2,516.5 L1329.4,476.7 L1332.1,512.9 L1334.5,490.6 L1336.9,518.8 L1338.9,500.2 L1341.0,487.4 L1343.4,516.5 L1345.6,482.1 L1348.2,506.2 L1350.8,516.5 L1352.4,512.2 L1354.9,548.0 L1357.2,503.6 L1359.3,478.0 L1362.0,540.0 L1364.6,493.0 L1366.3,510.5 L1369.0,478.9 L1371.4,505.3 L1373.2,492.1 L1376.0,507.8 L1378.2,473.3 L1380.4,514.1 L1382.4,487.5 L1384.7,514.9 L1386.9,476.9 L1389.8,502.9 L1392.0,486.0 L1393.8,470.0 L1396.4,486.0 L1398.5,487.1 L1401.2,488.6 L1403.4,517.6 L1406.0,476.9 L1408.1,508.9 L1409.9,520.1 L1412.4,480.2 L1414.9,519.5 L1417.4,475.9 L1419.3,480.8 L1421.5,514.6 L1423.8,477.1 L1426.1,514.4 L1428.3,517.1 L1430.8,487.2 L1433.0,508.5 L1435.5,490.3 L1438.1,521.5 L1440.5,477.2 L1442.1,511.6 L1444.8,487.9 L1447.1,503.5 L1449.0,473.6 L1451.6,514.0 L1453.7,474.9 L1456.1,513.2 L1458.4,484.2 L1461.1,515.4 L1462.9,474.9 L1465.4,516.1 L1467.8,484.9 L1469.9,508.1 L1472.6,473.2 L1474.5,470.0 L1476.8,517.2 L1479.4,483.8 L1481.5,517.9 L1484.0,493.5 L1485.8,498.1 L1488.1,462.0 L1490.9,507.8 L1492.9,485.3 L1495.6,519.8 L1497.4,471.2 L1499.7,499.6 L1502.5,473.0 L1504.4,506.5 L1506.5,472.2 L1508.9,502.7 L1511.6,473.1 L1513.5,496.0 L1516.0,481.0 L1518.6,503.3 L1520.7,500.7 L1523.1,484.2 L1525.6,482.9 L1527.3,508.3 L1530.1,482.9 L1532.1,514.1 L1534.2,516.3 L1536.4,473.4 L1538.9,480.5 L1541.0,504.6 L1543.8,511.8 L1545.9,508.3 L1547.8,490.3 L1550.8,488.1 L1552.9,504.7 L1555.1,484.0 L1557.1,500.4 L1559.7,482.4 L1562.3,508.7 L1564.4,450.0 L1566.6,504.1 L1569.0,473.1 L1571.2,511.6 L1573.6,492.5 L1575.6,511.2 L1577.8,477.7 L1580.0,499.9 L1583.0,482.4 L1584.6,501.0 L1587.1,507.6 L1589.7,512.6 L1591.9,484.5 L1594.5,498.3 L1596.3,486.7 L1598.5,507.8" fill="none" stroke="#edb120" stroke-opacity="0.95" stroke-width="2.9" stroke-linejoin="round"/>
</g>
<rect x="1353.5" y="109" width="201.5" height="151.5" fill="#ffffff" stroke="#7a7a7a" stroke-width="4"/>
<line x1="1369" y1="138.6" x2="1505" y2="138.6" stroke="#a8c0d4" stroke-width="6"/>
<text x="0" y="0" font-size="38" fill="#1e1e1e" transform="translate(1513.2,152.4) scale(1.1,1)">N</text>
<line x1="1369" y1="186" x2="1505" y2="186" stroke="#e6987a" stroke-width="6"/>
<text x="0" y="0" font-size="38" fill="#1e1e1e" transform="translate(1513.2,199.8) scale(1.1,1)">E</text>
<line x1="1369" y1="233.3" x2="1505" y2="233.3" stroke="#e0cc90" stroke-width="6"/>
<text x="0" y="0" font-size="38" fill="#1e1e1e" transform="translate(1513.2,247.1) scale(1.1,1)">D</text>
<text x="859.9" y="47" font-size="46.3" text-anchor="middle" fill="#262626" textLength="615.5" lengthAdjust="spacing">Velocity Estimation Error (m/s)</text>
<text x="860.6" y="1315.6" font-size="46.5" text-anchor="middle" fill="#262626">Time (seconds)</text>
<text x="12.2" y="1326" font-size="36.5" fill="#262626">Offset=0</text>
<text x="122.6" y="1260.5" font-size="36" text-anchor="middle" fill="#262626" letter-spacing="0.8">0</text>
<text x="369.8" y="1260.5" font-size="36" text-anchor="middle" fill="#262626" letter-spacing="0.8">100</text>
<text x="615.2" y="1260.5" font-size="36" text-anchor="middle" fill="#262626" letter-spacing="0.8">200</text>
<text x="863.1" y="1260.5" font-size="36" text-anchor="middle" fill="#262626" letter-spacing="0.8">300</text>
<text x="1109.0" y="1260.5" font-size="36" text-anchor="middle" fill="#262626" letter-spacing="0.8">400</text>
<text x="1355.1" y="1260.5" font-size="36" text-anchor="middle" fill="#262626" letter-spacing="0.8">500</text>
<text x="1600.8" y="1260.5" font-size="36" text-anchor="middle" fill="#262626" letter-spacing="0.8">600</text>
<text x="114.5" y="78.9" font-size="36" text-anchor="end" fill="#262626" letter-spacing="0.3">0.015</text>
<text x="114.5" y="222.1" font-size="36" text-anchor="end" fill="#262626" letter-spacing="0.3">0.01</text>
<text x="114.5" y="366.5" font-size="36" text-anchor="end" fill="#262626" letter-spacing="0.3">0.005</text>
<text x="114.5" y="510.7" font-size="36" text-anchor="end" fill="#262626" letter-spacing="0.3">0</text>
<text x="114.5" y="654.9" font-size="36" text-anchor="end" fill="#262626" letter-spacing="0.3">-0.005</text>
<text x="114.5" y="799.5" font-size="36" text-anchor="end" fill="#262626" letter-spacing="0.3">-0.01</text>
<text x="114.5" y="944.7" font-size="36" text-anchor="end" fill="#262626" letter-spacing="0.3">-0.015</text>
<text x="114.5" y="1088.5" font-size="36" text-anchor="end" fill="#262626" letter-spacing="0.3">-0.02</text>
<text x="114.5" y="1232.5" font-size="36" text-anchor="end" fill="#262626" letter-spacing="0.3">-0.025</text>
</svg>
</body></html>
